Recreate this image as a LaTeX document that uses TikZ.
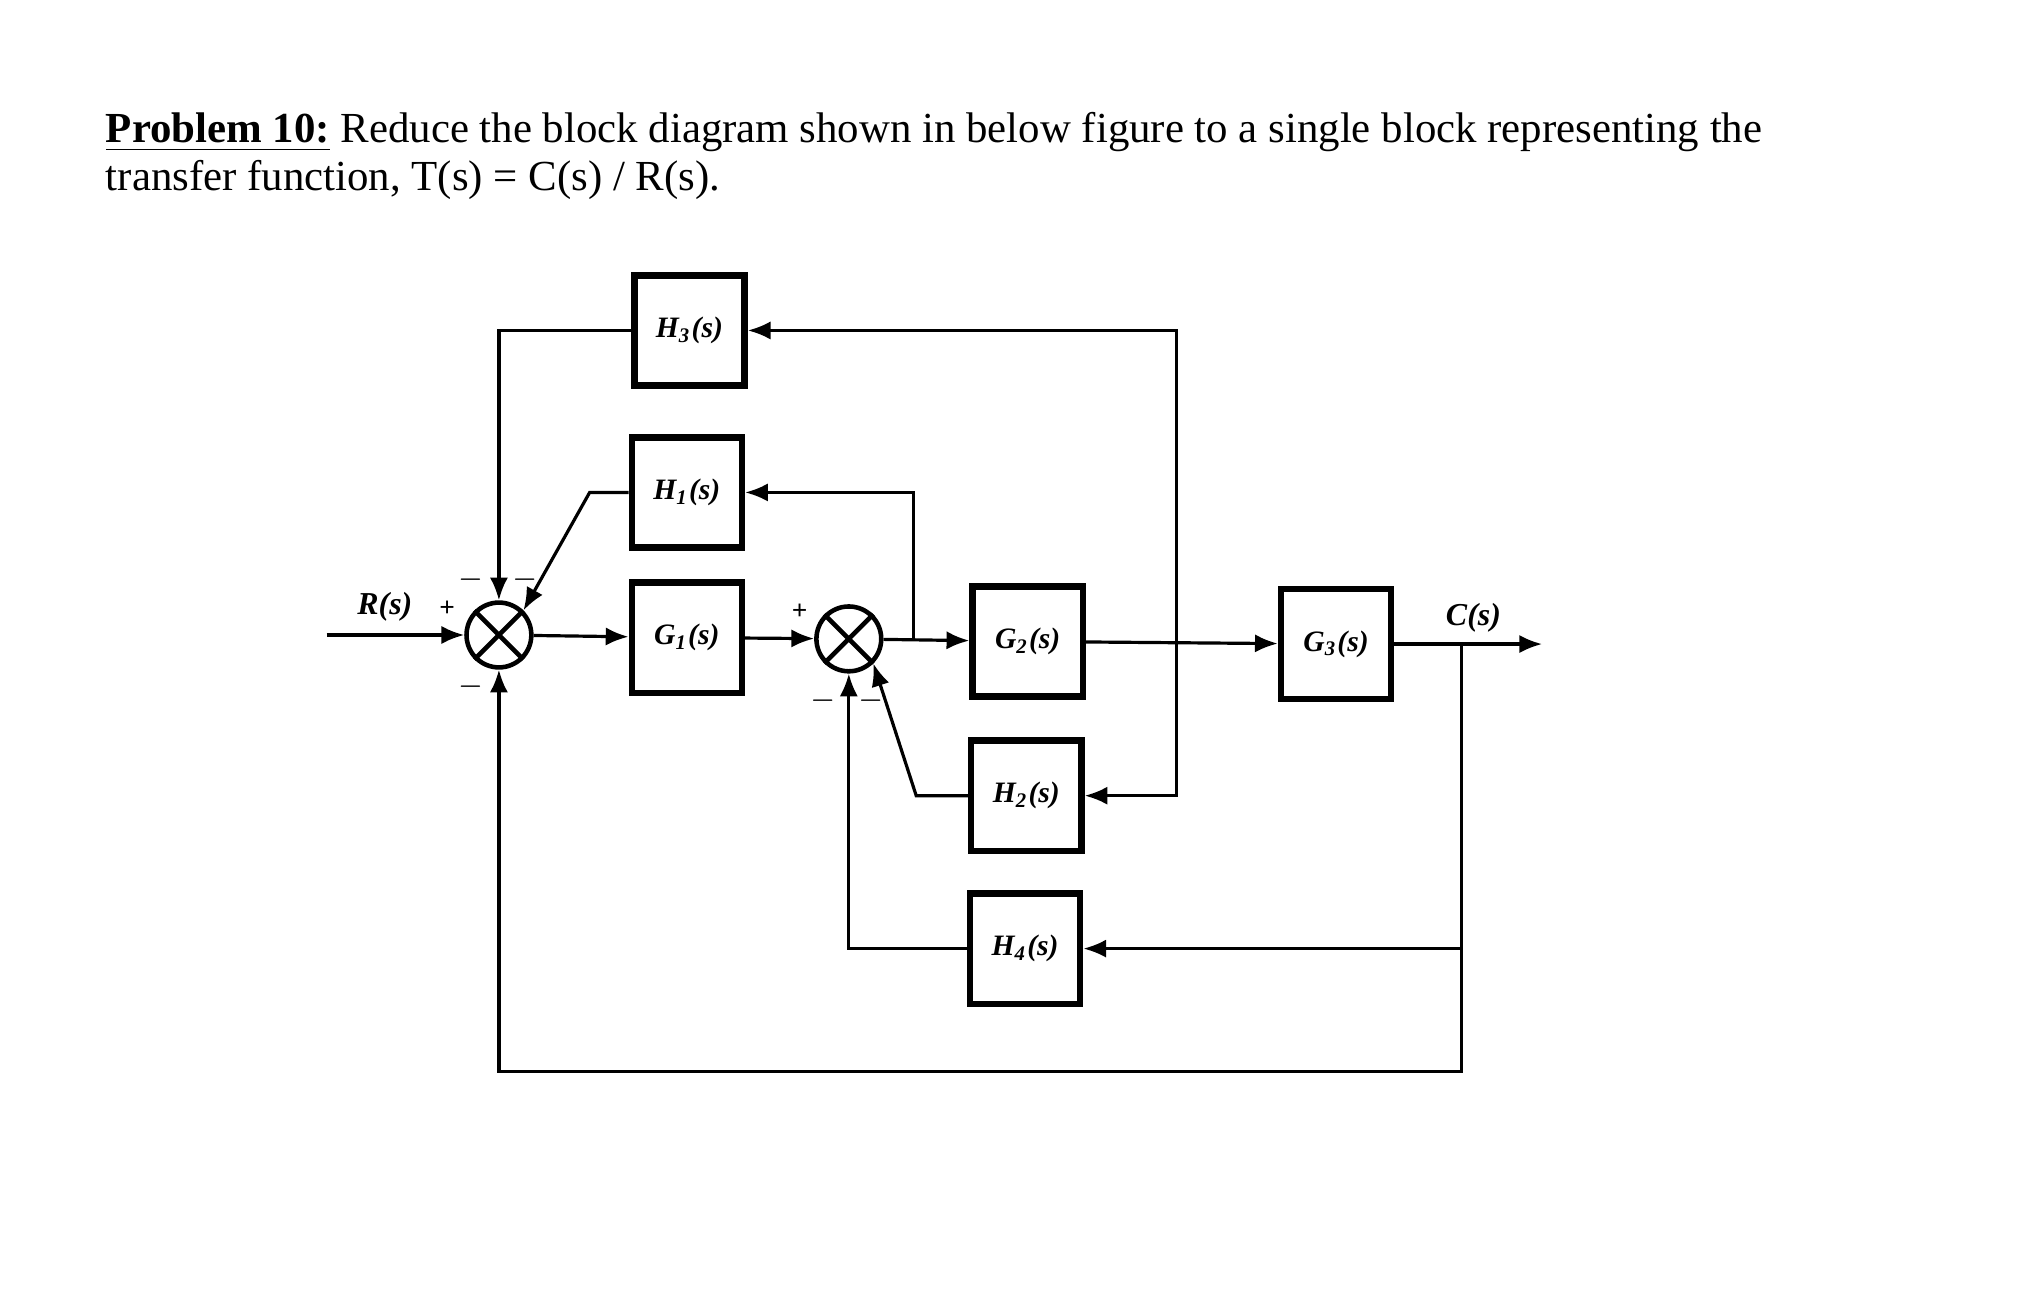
\documentclass[tikz,border=0pt]{standalone}
\usepackage{fontspec}
\setmainfont{Liberation Serif}
\usetikzlibrary{arrows.meta}

\tikzset{
  blk/.style={draw, line width=1.4pt, minimum width=0.85cm, minimum height=0.85cm, inner sep=0pt, font=\fontsize{6.5}{8}\selectfont\bfseries\itshape},
  sumj/.style={draw, line width=1pt, circle, minimum size=0.5cm, inner sep=0pt},
  sig/.style={font=\fontsize{6}{7}\selectfont\bfseries},
  line/.style={line width=0.7pt},
  arr/.style={line width=0.7pt, -{Latex[length=5pt,width=4pt]}}
}

\begin{document}
\begin{tikzpicture}[x=0.01cm, y=-0.01cm]
\useasboundingbox (0,0) rectangle (1568,997);

\node [anchor=base west, inner sep=0pt, font=\fontsize{9.4}{11}\selectfont] at (81,110) {\textbf{\underline{Problem 10:}} Reduce the block diagram shown in below figure to a single block representing the};
\node [anchor=base west, inner sep=0pt, font=\fontsize{9.4}{11}\selectfont] at (81,147) {transfer function, T(s) = C(s) / R(s).};

% summing junctions
\node [sumj] (s1) at (385,490) {};
\draw [line width=1pt] (s1.north west) -- (s1.south east) (s1.north east) -- (s1.south west);
\node [sumj] (s2) at (655,493) {};
\draw [line width=1pt] (s2.north west) -- (s2.south east) (s2.north east) -- (s2.south west);

% blocks
\node [blk] (h3) at (532,255) {H\textsubscript{3}(s)};
\node [blk] (h1) at (530,380) {H\textsubscript{1}(s)};
\node [blk] (g1) at (530,492) {G\textsubscript{1}(s)};
\node [blk] (g2) at (793,495) {G\textsubscript{2}(s)};
\node [blk] (h2) at (792,614) {H\textsubscript{2}(s)};
\node [blk] (h4) at (791,732) {H\textsubscript{4}(s)};
\node [blk] (g3) at (1031,497) {G\textsubscript{3}(s)};

\coordinate (in) at (252,490);
\coordinate (out) at (1190,497);
\coordinate (b1) at (705,493);
\coordinate (b2) at (908,495);
\coordinate (b3) at (1128,497);

% forward path
\draw [arr] (in) -- (s1);
\draw [arr] (s1) -- (g1);
\draw [arr] (g1) -- (s2);
\draw [arr] (s2) -- (g2);
\draw [arr] (g2) -- (g3);
\draw [arr] (g3) -- (out);

% feedback paths
\draw [arr] (b2) |- (h3);
\draw [arr] (h3) -| (s1);
\draw [arr] (b1) |- (h1);
\draw [arr] (h1.west) -- ++(-30,0) -- (s1.north east);
\draw [arr] (b2) |- (h2);
\draw [arr] (h2.west) -- ++(-40,0) -- (s2.south east);
\draw [arr] (b3) |- (h4);
\draw [arr] (h4) -| (s2);
\draw [arr] (b3) |- (385,827) -- (s1);

% labels
\node [sig, font=\fontsize{7}{8}\selectfont\bfseries\itshape] at (297,468) {R(s)};
\node [sig, font=\fontsize{7}{8}\selectfont\bfseries\itshape] at (1137,477) {C(s)};
\node [sig] at (345,470) {+};
\node [sig] at (363,447) {$-$};
\node [sig] at (405,447) {$-$};
\node [sig] at (363,530) {$-$};
\node [sig] at (617,472) {+};
\node [sig] at (635,541) {$-$};
\node [sig] at (672,541) {$-$};
\end{tikzpicture}
\end{document}
